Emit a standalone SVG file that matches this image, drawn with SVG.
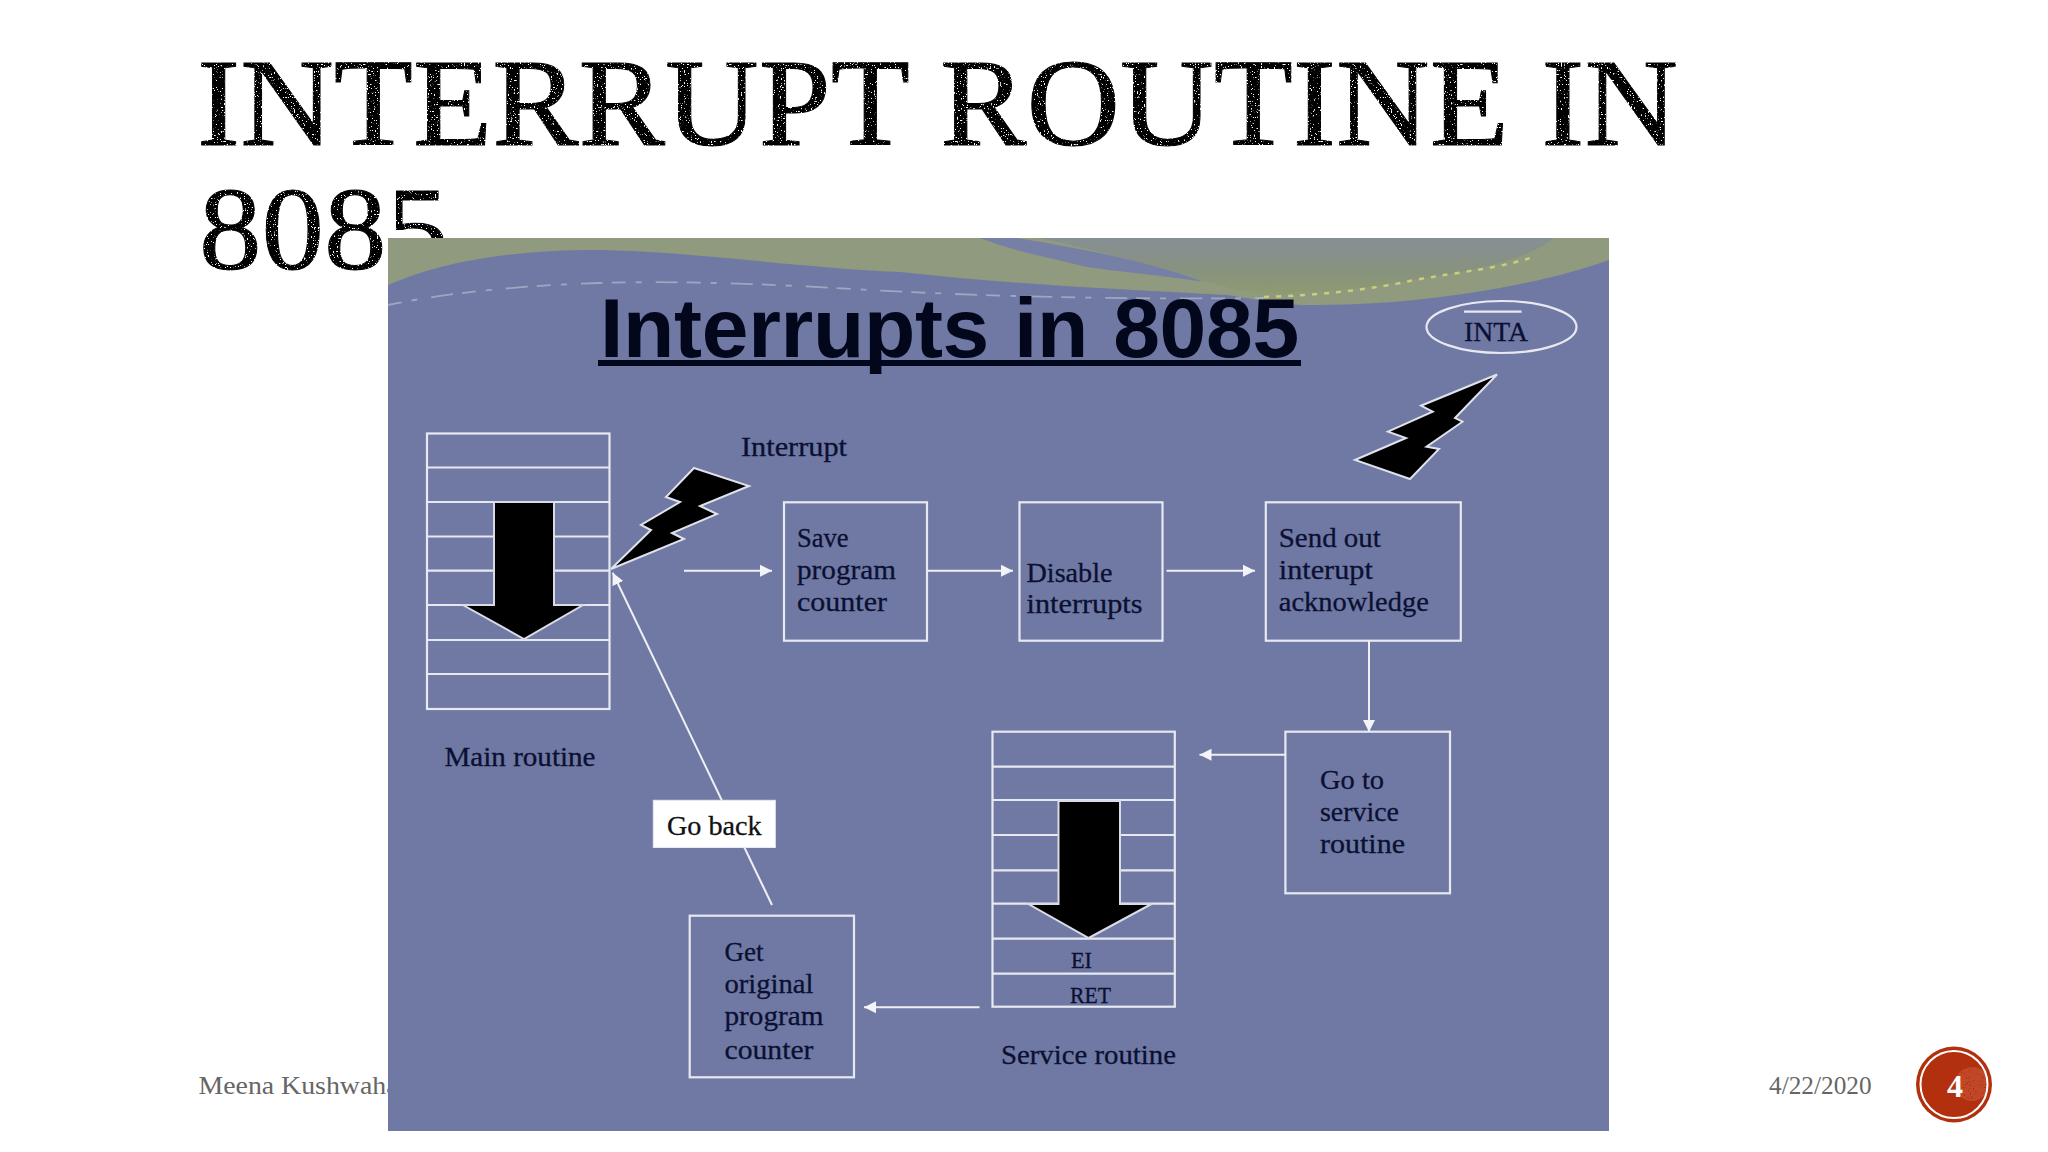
<svg xmlns="http://www.w3.org/2000/svg" width="2048" height="1152" viewBox="0 0 2048 1152">
<style>
.box{fill:none;stroke:#e6e9f2;stroke-width:2.2}
.rule{stroke:#e6e9f2;stroke-width:2.2;fill:none}
.conn{stroke:#eef0f6;stroke-width:2;fill:none;marker-end:url(#head)}
.bolt{fill:#000;stroke:#dfe2ea;stroke-width:2;stroke-linejoin:miter}
.bigarrow{fill:#000;stroke:#d9dce6;stroke-width:2}
.t{font-family:"Liberation Serif",serif;font-size:27px;fill:#0b1033;stroke:#0b1033;stroke-width:.3}
.title{font-family:"Liberation Serif",serif;font-size:125px;fill:#050505;stroke:#050505;stroke-width:1}
.foot{font-family:"Liberation Serif",serif;font-size:25px;fill:#666}
</style>
<defs>
<marker id="head" markerUnits="userSpaceOnUse" markerWidth="13" markerHeight="13" refX="12" refY="6.5" orient="auto">
<path d="M0,0.5 L12,6.5 L0,12.5 Z" fill="#f2f4f8"/>
</marker>
<filter id="speck" x="0" y="0" width="100%" height="100%">
<feTurbulence type="fractalNoise" baseFrequency="0.7" numOctaves="2" seed="4" result="n"/>
<feColorMatrix in="n" type="matrix" values="0 0 0 0 0 0 0 0 0 0 0 0 0 0 0 0 0 0 -14 10" result="m"/>
<feComposite in="SourceGraphic" in2="m" operator="in"/>
</filter>
<linearGradient id="grey" x1="0" y1="0" x2="0" y2="1">
<stop offset="0" stop-color="#868f94"/><stop offset="0.6" stop-color="#87927f"/><stop offset="1" stop-color="#8e9a70"/>
</linearGradient>
<clipPath id="panelclip"><rect x="388" y="238" width="1221" height="893"/></clipPath>
<clipPath id="badgeclip"><circle cx="1954" cy="1084.5" r="33"/></clipPath>
</defs>
<rect width="2048" height="1152" fill="#fff"/>
<g id="slide-title">
<text class="title" x="197" y="145" textLength="1481" lengthAdjust="spacingAndGlyphs" filter="url(#speck)">INTERRUPT ROUTINE IN</text>
<text class="title" x="199" y="269" style="font-size:119px" textLength="250" lengthAdjust="spacingAndGlyphs" filter="url(#speck)">8085</text>
</g>
<g id="footer-left"><text class="foot" x="198.5" y="1094" textLength="200" lengthAdjust="spacingAndGlyphs">Meena Kushwaha</text></g>
<g id="panel">
<rect x="388" y="238" width="1221" height="893" fill="#7079a3"/>
<g clip-path="url(#panelclip)">
<path d="M388,238 H1609 V260 C1540,285 1420,306 1311,305 C1290,305 1270,302 1227,295 C1130,290 1020,285 900,272 C800,268 680,250 592,250 C510,250 440,262 388,285 Z" fill="#8f9a7f"/>
<path d="M1040,238 H1554 C1530,258 1480,270 1414,280 C1360,290 1310,293 1264,293 C1245,292 1220,286 1190,277 C1140,262 1095,250 1040,238 Z" fill="url(#grey)"/>
<path d="M980,238 H1017 C1090,250 1150,262 1204,282 C1160,275 1120,272 1087,267 C1050,258 1010,250 980,238 Z" fill="#767fa6"/>
<path d="M1264,297 C1320,295 1370,290 1414,280 C1460,272 1500,268 1530,258" fill="none" stroke="#c9cf7e" stroke-width="2.5" stroke-dasharray="5 7"/>
<path d="M388,305 C450,292 530,285 600,283 C700,280 800,286 870,290 C960,295 1100,300 1264,298" fill="none" stroke="#b4bacc" stroke-width="1.8" stroke-dasharray="14 10 6 14 22 9" opacity=".7"/>
</g>
</g>
<g id="panel-title">
<text x="600" y="356.5" font-family="'Liberation Sans',Arial,sans-serif" font-weight="700" font-size="84" letter-spacing="-0.3" word-spacing="2" fill="#03071c">Interrupts in 8085</text>
<rect x="598" y="360" width="703" height="6" fill="#03071c"/>
</g>
<g id="main-routine">
<rect class="box" x="427" y="433.5" width="182.5" height="275.5"/>
<path class="rule" d="M427,467.5H609.5M427,502H609.5M427,536.5H609.5M427,570.7H609.5M427,605H609.5M427,640H609.5M427,674H609.5"/>
<path class="bigarrow" d="M494,502 H554 V605 H583 L524,639 L463,605 H494 Z"/>
<text class="t" x="444.5" y="766" textLength="151" lengthAdjust="spacingAndGlyphs">Main routine</text>
</g>
<g id="interrupt-bolt">
<path class="bolt" d="M694,468 L749,486 L700,506 L717,514 L672,533 L684,539 L611,569 L651,530 L641,525 L680,502 L666,497 Z"/>
<text class="t" x="741" y="456" textLength="106" lengthAdjust="spacingAndGlyphs">Interrupt</text>
</g>
<g id="save-counter">
<rect class="box" x="784" y="502.3" width="143" height="138.4"/>
<text class="t" x="797" y="546.5" textLength="51.5" lengthAdjust="spacingAndGlyphs">Save</text>
<text class="t" x="797" y="579" textLength="99" lengthAdjust="spacingAndGlyphs">program</text>
<text class="t" x="797" y="611" textLength="90" lengthAdjust="spacingAndGlyphs">counter</text>
</g>
<g id="disable-interrupts">
<rect class="box" x="1019.5" y="502.3" width="143" height="138.4"/>
<text class="t" x="1026.5" y="581.5" textLength="86" lengthAdjust="spacingAndGlyphs">Disable</text>
<text class="t" x="1026.5" y="613" textLength="116" lengthAdjust="spacingAndGlyphs">interrupts</text>
</g>
<g id="send-inta">
<rect class="box" x="1265.8" y="502.3" width="195" height="138.4"/>
<text class="t" x="1278.8" y="546.5" textLength="102" lengthAdjust="spacingAndGlyphs">Send out</text>
<text class="t" x="1278.8" y="579" textLength="94" lengthAdjust="spacingAndGlyphs">interupt</text>
<text class="t" x="1278.8" y="611" textLength="150" lengthAdjust="spacingAndGlyphs">acknowledge</text>
</g>
<g id="inta">
<ellipse class="box" cx="1501.5" cy="327" rx="75" ry="26"/>
<path class="rule" d="M1464,311.7H1521.6"/>
<text class="t" x="1464" y="340.7" textLength="64" lengthAdjust="spacingAndGlyphs">INTA</text>
<path class="bolt" d="M1497,374.5 L1455,418 L1462.5,421.7 L1426.5,446.7 L1439,449 L1410,479 L1355,460 L1406,438 L1388,431.7 L1432.7,411.7 L1421,405.7 Z"/>
</g>
<g id="go-to-service">
<rect class="box" x="1285.4" y="731.7" width="164.6" height="161.6"/>
<text class="t" x="1320" y="789.3" textLength="64" lengthAdjust="spacingAndGlyphs">Go to</text>
<text class="t" x="1320" y="821" textLength="79" lengthAdjust="spacingAndGlyphs">service</text>
<text class="t" x="1320" y="853.3" textLength="85" lengthAdjust="spacingAndGlyphs">routine</text>
</g>
<g id="service-routine">
<rect class="box" x="992.5" y="731.7" width="182.3" height="275"/>
<path class="rule" d="M992.5,766.7H1175M992.5,800H1175M992.5,835H1175M992.5,870.3H1175M992.5,903.7H1175M992.5,938.7H1175M992.5,973.7H1175"/>
<path class="bigarrow" d="M1058.5,801 H1120 V904 H1151.5 L1088.7,938 L1028.5,904 H1058.5 Z"/>
<text class="t" x="1071" y="968.3" style="font-size:23px" textLength="21" lengthAdjust="spacingAndGlyphs">EI</text>
<text class="t" x="1070" y="1003" style="font-size:23px" textLength="41" lengthAdjust="spacingAndGlyphs">RET</text>
<text class="t" x="1001" y="1064.3" textLength="175" lengthAdjust="spacingAndGlyphs">Service routine</text>
</g>
<g id="get-counter">
<rect class="box" x="689.7" y="915.7" width="164.3" height="161.6"/>
<text class="t" x="724.5" y="961" textLength="39" lengthAdjust="spacingAndGlyphs">Get</text>
<text class="t" x="724.5" y="992.7" textLength="89" lengthAdjust="spacingAndGlyphs">original</text>
<text class="t" x="724.5" y="1025" textLength="99" lengthAdjust="spacingAndGlyphs">program</text>
<text class="t" x="724.5" y="1058.8" textLength="89" lengthAdjust="spacingAndGlyphs">counter</text>
</g>
<g id="connectors">
<line class="conn" x1="684" y1="570.7" x2="772" y2="570.7"/>
<line class="conn" x1="927" y1="570.7" x2="1013" y2="570.7"/>
<line class="conn" x1="1166.5" y1="570.7" x2="1255" y2="570.7"/>
<line class="conn" x1="1369" y1="640.7" x2="1369" y2="732"/>
<line class="conn" x1="1285.4" y1="754.7" x2="1199.5" y2="754.7"/>
<line class="conn" x1="979.5" y1="1007.3" x2="864" y2="1007.3"/>
<line class="conn" x1="772" y1="905" x2="612.7" y2="572.7"/>
</g>
<g id="go-back-label">
<rect x="653.3" y="800.3" width="122" height="47.2" fill="#fff" stroke="#e6e9f2"/>
<text class="t" x="667" y="835" textLength="94.6" lengthAdjust="spacingAndGlyphs" style="fill:#111;stroke:#111">Go back</text>
</g>
<g id="footer-right">
<text class="foot" x="1769" y="1094" textLength="102.6" lengthAdjust="spacingAndGlyphs">4/22/2020</text>
<circle cx="1954" cy="1084.5" r="38" fill="#b2300e"/>
<circle cx="1972" cy="1084" r="17" fill="#d9765a" filter="url(#speck)" clip-path="url(#badgeclip)" opacity=".35"/>
<circle cx="1954" cy="1084.5" r="33.5" fill="none" stroke="#fff" stroke-width="2"/>
<text x="1955" y="1097" text-anchor="middle" font-family="'Liberation Serif',serif" font-weight="700" font-size="32" fill="#fff">4</text>
</g>
</svg>
